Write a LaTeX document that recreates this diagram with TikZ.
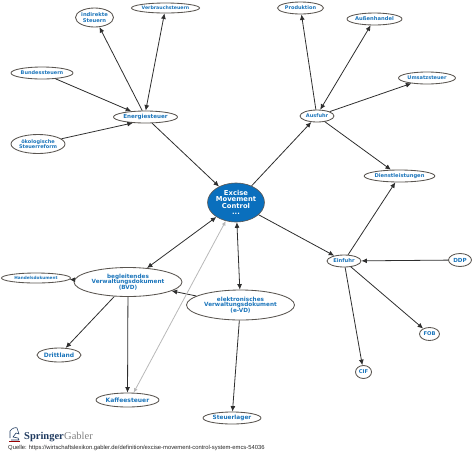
\documentclass[tikz,border=0pt]{standalone}
\usepackage{fontspec}
\setmainfont{DejaVu Sans}
\newfontfamily\logofont{Liberation Serif}
\newfontfamily\srcfont{Liberation Sans}
\usetikzlibrary{shapes.geometric,arrows.meta}
\definecolor{nodeblue}{HTML}{1B75BB}
\definecolor{emcblue}{HTML}{0A6FBD}
\definecolor{ringgrey}{HTML}{5A5550}
\definecolor{edgegrey}{HTML}{2E2E2E}
\definecolor{logoblue}{HTML}{1F3A5F}
\tikzset{
  nd/.style={ellipse,draw=ringgrey,line width=.85pt,fill=white,inner sep=0pt,align=center,
    text=nodeblue,font=\bfseries\fontsize{#1}{#1}\selectfont},
  nd/.default=5.4,
  sz/.style args={#1x#2}{minimum width=#1pt,minimum height=#2pt},
  hub/.style={ellipse,draw=ringgrey,line width=.6pt,fill=emcblue,inner sep=0pt,align=center,
    text=white,font=\bfseries\fontsize{6.8}{6.3}\selectfont,minimum width=53pt,minimum height=39pt},
  cn/.style={draw=edgegrey,line width=.8pt,-{Latex[length=5.5pt,width=5pt]}},
  bi/.style={draw=edgegrey,line width=.8pt,{Latex[length=5.5pt,width=5pt]}-{Latex[length=5.5pt,width=5pt]}},
  fa/.style={draw=black!28,line width=.8pt,{Latex[length=4.5pt,width=4pt]}-{Latex[length=4.5pt,width=4pt]}},
}
\begin{document}
\begin{tikzpicture}[x=1pt,y=-1pt]
\useasboundingbox (0,0) rectangle (474,456);
\node[hub] (emc) at (236,202.5) {Excise\\Movement\\Control\\...};
\node[nd=5.2,sz=38x19] (ind) at (94.5,17.5) {indirekte\\Steuern};
\node[nd=4.7,sz=68x10] (verb) at (165.5,8) {Verbrauchsteuern};
\node[nd=5,sz=62x12] (bund) at (42,73) {Bundessteuern};
\node[nd=5.6,sz=64x12] (en) at (145.5,117) {Energiesteuer};
\node[nd=5,sz=54x19] (oeko) at (38,144) {ökologische\\Steuerreform};
\node[nd=5,sz=46x12] (prod) at (300.5,8) {Produktion};
\node[nd=5.2,sz=55x12] (auss) at (374.5,19) {Außenhandel};
\node[nd=5,sz=57x12] (ums) at (427,78) {Umsatzsteuer};
\node[nd=5,sz=34x12] (aus) at (317,116) {Ausfuhr};
\node[nd=5.2,sz=70x12] (dien) at (399.5,176) {Dienstleistungen};
\node[nd=5.2,sz=34x12] (ein) at (344,261) {Einfuhr};
\node[nd=5.6,sz=23x13] (ddp) at (460,260) {DDP};
\node[nd=5.2,sz=20x13] (fob) at (429.5,334) {FOB};
\node[nd=5.2,sz=16x13] (cif) at (363.5,372) {CIF};
\node[nd=5.7,sz=108x29] (bvd) at (128,282) {begleitendes\\Verwaltungsdokument\\(BVD)};
\node[nd=4.2,sz=69x10] (han) at (36,278) {Handelsdokument};
\node[nd=5.7,sz=108x30] (evd) at (240.5,305) {elektronisches\\Verwaltungsdokument\\(e-VD)};
\node[nd=6,sz=44x14] (dri) at (59,355) {Drittland};
\node[nd=6,sz=63x14] (kaf) at (127.5,400) {Kaffeesteuer};
\node[nd=5.8,sz=58x12] (lag) at (232,418) {Steuerlager};

\draw[cn] (en) -- (emc);
\draw[cn] (en.117) -- (ind);
\draw[bi] (en.88) -- (verb);
\draw[cn] (bund) -- (en.158);
\draw[cn] (oeko) -- (en.205);
\draw[cn] (emc) -- (aus);
\draw[cn] (aus.100) -- (prod);
\draw[bi] (aus.63) -- (auss);
\draw[cn] (aus) -- (ums);
\draw[cn] (aus) -- (dien);
\draw[cn] (emc) -- (ein);
\draw[cn] (ein) -- (dien);
\draw[cn] (ddp) -- (ein);
\draw[cn] (ein) -- (fob);
\draw[cn] (ein) -- (cif);
\draw[bi] (bvd) -- (emc);
\draw[bi] (evd) -- (emc);
\draw[cn] (bvd) -- (han);
\draw[cn] (evd) -- (bvd);
\draw[cn] (bvd) -- (dri);
\draw[cn] (bvd) -- (kaf);
\draw[cn] (evd) -- (lag);
\draw[fa] (kaf.50) -- (emc.241);

% logo
\draw[logoblue,line width=.6pt,line join=round] (10,438) -- (10,431) .. controls (12,428) and (16,427) .. (17,428)
  -- (19,434) -- (16,433) -- (13,437) -- (18,438) .. controls (19,439) and (19,439) .. (19,440) -- (11,440);
\draw[red!60!black,line width=.5pt] (9,441.5) -- (20,441.5);
\node[anchor=base west,inner sep=0pt,text=logoblue] (sp) at (24,439)
  {\logofont\bfseries\fontsize{10.5}{11}\selectfont Springer};
\node[anchor=base west,inner sep=0pt,text=black!50] (ga) at (64,439)
  {\logofont\fontsize{10.5}{11}\selectfont Gabler};
\node[anchor=base west,inner sep=0pt,text=black!85] (src) at (8,449.5)
  {\srcfont\fontsize{5.85}{6}\selectfont Quelle: https://wirtschaftslexikon.gabler.de/definition/excise-movement-control-system-emcs-54036};
\end{tikzpicture}
\end{document}
